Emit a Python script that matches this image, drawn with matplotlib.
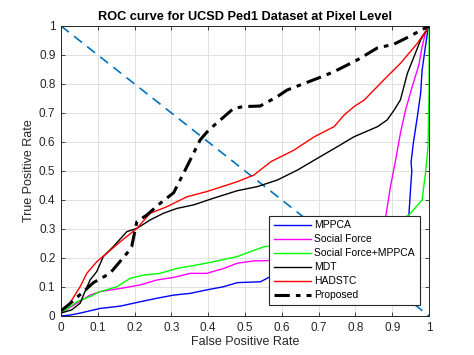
import matplotlib
matplotlib.use("Agg")
import matplotlib.pyplot as plt
import numpy as np

plt.rcParams['font.family'] = ['Liberation Sans', 'DejaVu Sans']

# ---- data ----
mppca_x = [0.0, 0.024, 0.052, 0.106, 0.161, 0.215, 0.26, 0.306, 0.351, 0.396, 0.442, 0.479, 0.542, 0.569,
           0.65, 0.75, 0.85, 0.92, 0.943, 0.945, 0.950, 0.953, 0.951, 0.957, 0.968, 0.977, 0.981, 0.99, 0.997, 1.0]
mppca_y = [0.0, 0.003, 0.01, 0.026, 0.034, 0.049, 0.061, 0.072, 0.078, 0.090, 0.101, 0.115, 0.118, 0.136,
           0.17, 0.21, 0.26, 0.31, 0.33, 0.348, 0.446, 0.500, 0.530, 0.595, 0.687, 0.768, 0.848, 0.929, 0.99, 1.0]

sf_x = [0.0, 0.043, 0.079, 0.106, 0.161, 0.215, 0.26, 0.306, 0.351, 0.396, 0.442, 0.479, 0.524, 0.569,
        0.65, 0.75, 0.83, 0.87, 0.882, 0.895, 0.909, 0.922, 0.936, 0.954, 0.968, 0.973, 0.981, 0.99, 1.0]
sf_y = [0.01, 0.044, 0.072, 0.084, 0.095, 0.107, 0.124, 0.133, 0.147, 0.147, 0.164, 0.182, 0.190, 0.191,
        0.20, 0.23, 0.27, 0.31, 0.342, 0.446, 0.538, 0.630, 0.710, 0.791, 0.848, 0.871, 0.929, 0.976, 1.0]

sfm_x = [0.0, 0.043, 0.079, 0.106, 0.152, 0.188, 0.224, 0.269, 0.315, 0.369, 0.414, 0.479, 0.515, 0.552, 0.570,
         0.65, 0.75, 0.85, 0.92, 0.945, 0.981, 0.99, 0.997, 1.0, 1.0]
sfm_y = [0.01, 0.049, 0.067, 0.084, 0.101, 0.130, 0.141, 0.147, 0.164, 0.176, 0.187, 0.205, 0.222, 0.239, 0.241,
         0.26, 0.28, 0.31, 0.33, 0.348, 0.40, 0.492, 0.584, 0.791, 1.0]

mdt_x = [0.0, 0.029, 0.052, 0.065, 0.079, 0.097, 0.115, 0.142, 0.179, 0.206, 0.242, 0.278, 0.315, 0.36, 0.414,
         0.479, 0.533, 0.588, 0.642, 0.697, 0.751, 0.796, 0.860, 0.886, 0.905, 0.922, 0.941, 0.959, 0.977, 1.0]
mdt_y = [0.01, 0.021, 0.044, 0.084, 0.124, 0.153, 0.205, 0.239, 0.291, 0.302, 0.331, 0.354, 0.371, 0.383, 0.406,
         0.432, 0.446, 0.469, 0.503, 0.544, 0.584, 0.618, 0.653, 0.676, 0.710, 0.745, 0.837, 0.894, 0.952, 1.0]

had_x = [0.0, 0.024, 0.052, 0.070, 0.097, 0.124, 0.161, 0.206, 0.242, 0.288, 0.342, 0.396, 0.479, 0.524, 0.570,
         0.633, 0.688, 0.742, 0.769, 0.796, 0.824, 0.877, 0.922, 0.968, 1.0]
had_y = [0.018, 0.044, 0.101, 0.147, 0.187, 0.216, 0.256, 0.302, 0.354, 0.377, 0.411, 0.429, 0.463, 0.486, 0.532,
         0.572, 0.618, 0.653, 0.693, 0.722, 0.745, 0.814, 0.871, 0.940, 1.0]

prop_x = [0.0, 0.02, 0.061, 0.088, 0.133, 0.179, 0.192, 0.206, 0.233, 0.269, 0.306, 0.342, 0.378, 0.401, 0.433,
          0.469, 0.496, 0.541, 0.587, 0.614, 0.696, 0.741, 0.805, 0.859, 0.904, 0.950, 0.977, 1.0]
prop_y = [0.018, 0.038, 0.084, 0.115, 0.147, 0.216, 0.239, 0.325, 0.348, 0.388, 0.425, 0.515, 0.607, 0.641, 0.676,
          0.716, 0.722, 0.724, 0.756, 0.779, 0.819, 0.842, 0.883, 0.924, 0.937, 0.966, 0.985, 1.0]

diag_x = [0.0, 1.0]
diag_y = [1.0, 0.0]

labels = ['MPPCA', 'Social Force', 'Social Force+MPPCA', 'MDT', 'HADSTC', 'Proposed']
ticks = [0, 0.1, 0.2, 0.3, 0.4, 0.5, 0.6, 0.7, 0.8, 0.9, 1]
tick_labels = ['0', '0.1', '0.2', '0.3', '0.4', '0.5', '0.6', '0.7', '0.8', '0.9', '1']

fig = plt.figure(figsize=(4.74, 3.55), dpi=100)
ax = fig.add_axes([0.1287, 0.1099, 0.7766, 0.8169])

ax.plot(diag_x, diag_y, color=(0, 0.447, 0.741), linestyle=(0, (6, 4)), linewidth=1.2, zorder=2)
l1, = ax.plot(mppca_x, mppca_y, color='#0000ff', linewidth=1.0, zorder=3)
l2, = ax.plot(sf_x, sf_y, color='#ff00ff', linewidth=1.0, zorder=3)
l3, = ax.plot(sfm_x, sfm_y, color='#00ff00', linewidth=1.0, zorder=3)
l4, = ax.plot(mdt_x, mdt_y, color='#000000', linewidth=1.0, zorder=3)
l5, = ax.plot(had_x, had_y, color='#ff0000', linewidth=1.0, zorder=3)
l6, = ax.plot(prop_x, prop_y, color='#000000', linewidth=2.2, linestyle=(0, (5, 2, 1.5, 2)), zorder=4)

ax.set_xlim(0, 1)
ax.set_ylim(0, 1)
ax.set_xticks(ticks)
ax.set_xticklabels(tick_labels)
ax.set_yticks(ticks)
ax.set_yticklabels(tick_labels)
ax.tick_params(direction='in', length=3, width=0.6, top=True, right=True, labelsize=8.5,
               colors='#262626', pad=4)
ax.grid(True, color='#dcdcdc', linewidth=0.6)
ax.set_axisbelow(True)
for s in ax.spines.values():
    s.set_color('#262626')
    s.set_linewidth(0.7)

ax.set_title('ROC curve for UCSD Ped1 Dataset at Pixel Level', fontsize=9.2, fontweight='bold', pad=4)
ax.set_xlabel('False Positive Rate', fontsize=9, color='#262626', labelpad=2)
ax.set_ylabel('True Positive Rate', fontsize=9, color='#262626', labelpad=3)

leg = ax.legend([l1, l2, l3, l4, l5, l6], labels, loc='lower right', bbox_to_anchor=(0.974, 0.038),
                fontsize=7.5, frameon=True, fancybox=False, framealpha=1, edgecolor='#262626',
                handlelength=3.6, labelspacing=0.38, borderpad=0.45, handletextpad=0.3,
                borderaxespad=0)
leg.get_frame().set_linewidth(0.8)
leg.set_zorder(10)

fig.savefig('out.png', dpi=100)
